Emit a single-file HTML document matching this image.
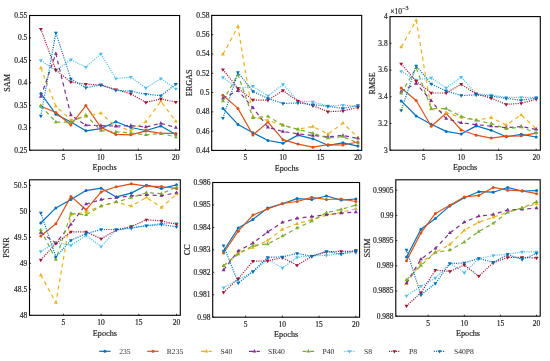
<!DOCTYPE html>
<html><head><meta charset="utf-8"><title>Training curves</title>
<style>
html,body{margin:0;padding:0;background:#fff;}
body{width:550px;height:361px;overflow:hidden;}
svg{display:block;will-change:transform;}
text{font-family:"Liberation Serif", serif;stroke:#262626;stroke-width:0.18px;}
</style></head>
<body>
<svg width="550" height="361" viewBox="0 0 550 361">
<rect width="550" height="361" fill="#fff"/>
<polyline points="40.85,93.50 55.85,114.20 70.85,122.00 85.85,130.80 100.85,128.60 115.85,121.70 130.85,127.50 145.85,130.50 160.85,126.10 175.85,134.60" fill="none" stroke="#0072BD" stroke-width="1.2" stroke-linejoin="round"/>
<circle cx="40.85" cy="93.50" r="1.5" fill="#0072BD"/>
<circle cx="55.85" cy="114.20" r="1.5" fill="#0072BD"/>
<circle cx="70.85" cy="122.00" r="1.5" fill="#0072BD"/>
<circle cx="85.85" cy="130.80" r="1.5" fill="#0072BD"/>
<circle cx="100.85" cy="128.60" r="1.5" fill="#0072BD"/>
<circle cx="115.85" cy="121.70" r="1.5" fill="#0072BD"/>
<circle cx="130.85" cy="127.50" r="1.5" fill="#0072BD"/>
<circle cx="145.85" cy="130.50" r="1.5" fill="#0072BD"/>
<circle cx="160.85" cy="126.10" r="1.5" fill="#0072BD"/>
<circle cx="175.85" cy="134.60" r="1.5" fill="#0072BD"/>
<polyline points="40.85,106.20 55.85,112.50 70.85,125.00 85.85,105.60 100.85,127.40 115.85,134.40 130.85,134.80 145.85,130.90 160.85,133.40 175.85,133.40" fill="none" stroke="#D95319" stroke-width="1.2" stroke-linejoin="round"/>
<circle cx="40.85" cy="106.20" r="1.5" fill="#D95319"/>
<circle cx="55.85" cy="112.50" r="1.5" fill="#D95319"/>
<circle cx="70.85" cy="125.00" r="1.5" fill="#D95319"/>
<circle cx="85.85" cy="105.60" r="1.5" fill="#D95319"/>
<circle cx="100.85" cy="127.40" r="1.5" fill="#D95319"/>
<circle cx="115.85" cy="134.40" r="1.5" fill="#D95319"/>
<circle cx="130.85" cy="134.80" r="1.5" fill="#D95319"/>
<circle cx="145.85" cy="130.90" r="1.5" fill="#D95319"/>
<circle cx="160.85" cy="133.40" r="1.5" fill="#D95319"/>
<circle cx="175.85" cy="133.40" r="1.5" fill="#D95319"/>
<polyline points="40.85,67.90 55.85,106.40 70.85,119.90 85.85,116.50 100.85,113.20 115.85,126.50 130.85,130.30 145.85,121.70 160.85,101.30 175.85,121.30" fill="none" stroke="#EDB120" stroke-width="1.2" stroke-dasharray="4,3.5" stroke-linejoin="round"/>
<polygon points="40.85,65.66 38.90,69.07 42.80,69.07" fill="#EDB120"/>
<polygon points="55.85,104.16 53.90,107.57 57.80,107.57" fill="#EDB120"/>
<polygon points="70.85,117.66 68.90,121.07 72.80,121.07" fill="#EDB120"/>
<polygon points="85.85,114.26 83.90,117.67 87.80,117.67" fill="#EDB120"/>
<polygon points="100.85,110.96 98.90,114.37 102.80,114.37" fill="#EDB120"/>
<polygon points="115.85,124.26 113.90,127.67 117.80,127.67" fill="#EDB120"/>
<polygon points="130.85,128.06 128.90,131.47 132.80,131.47" fill="#EDB120"/>
<polygon points="145.85,119.46 143.90,122.87 147.80,122.87" fill="#EDB120"/>
<polygon points="160.85,99.06 158.90,102.47 162.80,102.47" fill="#EDB120"/>
<polygon points="175.85,119.06 173.90,122.47 177.80,122.47" fill="#EDB120"/>
<polyline points="40.85,96.60 55.85,53.70 70.85,115.10 85.85,125.20 100.85,125.60 115.85,126.10 130.85,125.60 145.85,127.00 160.85,123.30 175.85,127.60" fill="none" stroke="#7E2F8E" stroke-width="1.2" stroke-dasharray="4,3.5" stroke-linejoin="round"/>
<polygon points="40.85,94.36 38.90,97.77 42.80,97.77" fill="#7E2F8E"/>
<polygon points="55.85,51.46 53.90,54.87 57.80,54.87" fill="#7E2F8E"/>
<polygon points="70.85,112.86 68.90,116.27 72.80,116.27" fill="#7E2F8E"/>
<polygon points="85.85,122.96 83.90,126.37 87.80,126.37" fill="#7E2F8E"/>
<polygon points="100.85,123.36 98.90,126.77 102.80,126.77" fill="#7E2F8E"/>
<polygon points="115.85,123.86 113.90,127.27 117.80,127.27" fill="#7E2F8E"/>
<polygon points="130.85,123.36 128.90,126.77 132.80,126.77" fill="#7E2F8E"/>
<polygon points="145.85,124.76 143.90,128.17 147.80,128.17" fill="#7E2F8E"/>
<polygon points="160.85,121.06 158.90,124.47 162.80,124.47" fill="#7E2F8E"/>
<polygon points="175.85,125.36 173.90,128.77 177.80,128.77" fill="#7E2F8E"/>
<polyline points="40.85,105.80 55.85,122.10 70.85,122.20 85.85,115.20 100.85,130.60 115.85,131.80 130.85,133.00 145.85,134.90 160.85,133.40 175.85,137.00" fill="none" stroke="#77AC30" stroke-width="1.2" stroke-dasharray="4,3.5" stroke-linejoin="round"/>
<polygon points="40.85,103.56 38.90,106.97 42.80,106.97" fill="#77AC30"/>
<polygon points="55.85,119.86 53.90,123.27 57.80,123.27" fill="#77AC30"/>
<polygon points="70.85,119.96 68.90,123.37 72.80,123.37" fill="#77AC30"/>
<polygon points="85.85,112.96 83.90,116.37 87.80,116.37" fill="#77AC30"/>
<polygon points="100.85,128.36 98.90,131.77 102.80,131.77" fill="#77AC30"/>
<polygon points="115.85,129.56 113.90,132.97 117.80,132.97" fill="#77AC30"/>
<polygon points="130.85,130.76 128.90,134.17 132.80,134.17" fill="#77AC30"/>
<polygon points="145.85,132.66 143.90,136.07 147.80,136.07" fill="#77AC30"/>
<polygon points="160.85,131.16 158.90,134.57 162.80,134.57" fill="#77AC30"/>
<polygon points="175.85,134.76 173.90,138.17 177.80,138.17" fill="#77AC30"/>
<polyline points="40.85,60.50 55.85,70.40 70.85,59.70 85.85,67.10 100.85,53.80 115.85,78.60 130.85,77.10 145.85,88.00 160.85,78.60 175.85,88.80" fill="none" stroke="#4DBEEE" stroke-width="1.2" stroke-dasharray="1.1,1.2" stroke-linejoin="round"/>
<polygon points="40.85,62.74 38.90,59.33 42.80,59.33" fill="#4DBEEE"/>
<polygon points="55.85,72.64 53.90,69.23 57.80,69.23" fill="#4DBEEE"/>
<polygon points="70.85,61.94 68.90,58.53 72.80,58.53" fill="#4DBEEE"/>
<polygon points="85.85,69.34 83.90,65.93 87.80,65.93" fill="#4DBEEE"/>
<polygon points="100.85,56.04 98.90,52.63 102.80,52.63" fill="#4DBEEE"/>
<polygon points="115.85,80.84 113.90,77.43 117.80,77.43" fill="#4DBEEE"/>
<polygon points="130.85,79.34 128.90,75.93 132.80,75.93" fill="#4DBEEE"/>
<polygon points="145.85,90.24 143.90,86.83 147.80,86.83" fill="#4DBEEE"/>
<polygon points="160.85,80.84 158.90,77.43 162.80,77.43" fill="#4DBEEE"/>
<polygon points="175.85,91.04 173.90,87.63 177.80,87.63" fill="#4DBEEE"/>
<polyline points="40.85,29.10 55.85,70.00 70.85,82.00 85.85,84.20 100.85,85.00 115.85,89.60 130.85,93.80 145.85,102.40 160.85,99.00 175.85,102.10" fill="none" stroke="#A2142F" stroke-width="1.2" stroke-dasharray="1.1,1.2" stroke-linejoin="round"/>
<polygon points="40.85,31.34 38.90,27.93 42.80,27.93" fill="#A2142F"/>
<polygon points="55.85,72.24 53.90,68.83 57.80,68.83" fill="#A2142F"/>
<polygon points="70.85,84.24 68.90,80.83 72.80,80.83" fill="#A2142F"/>
<polygon points="85.85,86.44 83.90,83.03 87.80,83.03" fill="#A2142F"/>
<polygon points="100.85,87.24 98.90,83.83 102.80,83.83" fill="#A2142F"/>
<polygon points="115.85,91.84 113.90,88.43 117.80,88.43" fill="#A2142F"/>
<polygon points="130.85,96.04 128.90,92.63 132.80,92.63" fill="#A2142F"/>
<polygon points="145.85,104.64 143.90,101.23 147.80,101.23" fill="#A2142F"/>
<polygon points="160.85,101.24 158.90,97.83 162.80,97.83" fill="#A2142F"/>
<polygon points="175.85,104.34 173.90,100.93 177.80,100.93" fill="#A2142F"/>
<polyline points="40.85,116.00 55.85,32.80 70.85,78.90 85.85,87.70 100.85,84.90 115.85,90.20 130.85,91.40 145.85,94.10 160.85,95.70 175.85,84.10" fill="none" stroke="#0072BD" stroke-width="1.2" stroke-dasharray="1.1,1.2" stroke-linejoin="round"/>
<polygon points="40.85,118.24 38.90,114.83 42.80,114.83" fill="#0072BD"/>
<polygon points="55.85,35.04 53.90,31.63 57.80,31.63" fill="#0072BD"/>
<polygon points="70.85,81.14 68.90,77.73 72.80,77.73" fill="#0072BD"/>
<polygon points="85.85,89.94 83.90,86.53 87.80,86.53" fill="#0072BD"/>
<polygon points="100.85,87.14 98.90,83.73 102.80,83.73" fill="#0072BD"/>
<polygon points="115.85,92.44 113.90,89.03 117.80,89.03" fill="#0072BD"/>
<polygon points="130.85,93.64 128.90,90.23 132.80,90.23" fill="#0072BD"/>
<polygon points="145.85,96.34 143.90,92.93 147.80,92.93" fill="#0072BD"/>
<polygon points="160.85,97.94 158.90,94.53 162.80,94.53" fill="#0072BD"/>
<polygon points="175.85,86.34 173.90,82.93 177.80,82.93" fill="#0072BD"/>
<rect x="29.60" y="15.50" width="150.00" height="134.70" fill="none" stroke="#000" stroke-width="1.1"/>
<line x1="63.35" y1="150.20" x2="63.35" y2="148.70" stroke="#000" stroke-width="0.8"/>
<text x="63.35" y="160.20" text-anchor="middle" font-size="7.5" fill="#262626">5</text>
<line x1="100.85" y1="150.20" x2="100.85" y2="148.70" stroke="#000" stroke-width="0.8"/>
<text x="100.85" y="160.20" text-anchor="middle" font-size="7.5" fill="#262626">10</text>
<line x1="138.35" y1="150.20" x2="138.35" y2="148.70" stroke="#000" stroke-width="0.8"/>
<text x="138.35" y="160.20" text-anchor="middle" font-size="7.5" fill="#262626">15</text>
<line x1="175.85" y1="150.20" x2="175.85" y2="148.70" stroke="#000" stroke-width="0.8"/>
<text x="175.85" y="160.20" text-anchor="middle" font-size="7.5" fill="#262626">20</text>
<line x1="29.60" y1="150.20" x2="31.10" y2="150.20" stroke="#000" stroke-width="0.8"/>
<text x="27.30" y="152.60" text-anchor="end" font-size="7.5" fill="#262626">0.25</text>
<line x1="29.60" y1="127.75" x2="31.10" y2="127.75" stroke="#000" stroke-width="0.8"/>
<text x="27.30" y="130.15" text-anchor="end" font-size="7.5" fill="#262626">0.3</text>
<line x1="29.60" y1="105.30" x2="31.10" y2="105.30" stroke="#000" stroke-width="0.8"/>
<text x="27.30" y="107.70" text-anchor="end" font-size="7.5" fill="#262626">0.35</text>
<line x1="29.60" y1="82.85" x2="31.10" y2="82.85" stroke="#000" stroke-width="0.8"/>
<text x="27.30" y="85.25" text-anchor="end" font-size="7.5" fill="#262626">0.4</text>
<line x1="29.60" y1="60.40" x2="31.10" y2="60.40" stroke="#000" stroke-width="0.8"/>
<text x="27.30" y="62.80" text-anchor="end" font-size="7.5" fill="#262626">0.45</text>
<line x1="29.60" y1="37.95" x2="31.10" y2="37.95" stroke="#000" stroke-width="0.8"/>
<text x="27.30" y="40.35" text-anchor="end" font-size="7.5" fill="#262626">0.5</text>
<line x1="29.60" y1="15.50" x2="31.10" y2="15.50" stroke="#000" stroke-width="0.8"/>
<text x="27.30" y="17.90" text-anchor="end" font-size="7.5" fill="#262626">0.55</text>
<text x="104.60" y="170.40" text-anchor="middle" font-size="8.2" fill="#262626">Epochs</text>
<text transform="translate(10.40,82.85) rotate(-90)" text-anchor="middle" font-size="8.2" fill="#262626">SAM</text>
<polyline points="222.95,108.40 237.95,124.40 252.95,132.70 267.95,140.50 282.95,143.20 297.95,135.10 312.95,138.80 327.95,145.30 342.95,142.80 357.95,146.10" fill="none" stroke="#0072BD" stroke-width="1.2" stroke-linejoin="round"/>
<circle cx="222.95" cy="108.40" r="1.5" fill="#0072BD"/>
<circle cx="237.95" cy="124.40" r="1.5" fill="#0072BD"/>
<circle cx="252.95" cy="132.70" r="1.5" fill="#0072BD"/>
<circle cx="267.95" cy="140.50" r="1.5" fill="#0072BD"/>
<circle cx="282.95" cy="143.20" r="1.5" fill="#0072BD"/>
<circle cx="297.95" cy="135.10" r="1.5" fill="#0072BD"/>
<circle cx="312.95" cy="138.80" r="1.5" fill="#0072BD"/>
<circle cx="327.95" cy="145.30" r="1.5" fill="#0072BD"/>
<circle cx="342.95" cy="142.80" r="1.5" fill="#0072BD"/>
<circle cx="357.95" cy="146.10" r="1.5" fill="#0072BD"/>
<polyline points="222.95,95.30 237.95,108.40 252.95,135.00 267.95,122.10 282.95,139.70 297.95,144.10 312.95,147.20 327.95,144.70 342.95,145.00 357.95,142.00" fill="none" stroke="#D95319" stroke-width="1.2" stroke-linejoin="round"/>
<circle cx="222.95" cy="95.30" r="1.5" fill="#D95319"/>
<circle cx="237.95" cy="108.40" r="1.5" fill="#D95319"/>
<circle cx="252.95" cy="135.00" r="1.5" fill="#D95319"/>
<circle cx="267.95" cy="122.10" r="1.5" fill="#D95319"/>
<circle cx="282.95" cy="139.70" r="1.5" fill="#D95319"/>
<circle cx="297.95" cy="144.10" r="1.5" fill="#D95319"/>
<circle cx="312.95" cy="147.20" r="1.5" fill="#D95319"/>
<circle cx="327.95" cy="144.70" r="1.5" fill="#D95319"/>
<circle cx="342.95" cy="145.00" r="1.5" fill="#D95319"/>
<circle cx="357.95" cy="142.00" r="1.5" fill="#D95319"/>
<polyline points="222.95,54.30 237.95,26.60 252.95,116.80 267.95,120.50 282.95,125.20 297.95,129.20 312.95,126.50 327.95,134.10 342.95,123.20 357.95,137.40" fill="none" stroke="#EDB120" stroke-width="1.2" stroke-dasharray="4,3.5" stroke-linejoin="round"/>
<polygon points="222.95,52.06 221.00,55.47 224.90,55.47" fill="#EDB120"/>
<polygon points="237.95,24.36 236.00,27.77 239.90,27.77" fill="#EDB120"/>
<polygon points="252.95,114.56 251.00,117.97 254.90,117.97" fill="#EDB120"/>
<polygon points="267.95,118.26 266.00,121.67 269.90,121.67" fill="#EDB120"/>
<polygon points="282.95,122.96 281.00,126.37 284.90,126.37" fill="#EDB120"/>
<polygon points="297.95,126.96 296.00,130.37 299.90,130.37" fill="#EDB120"/>
<polygon points="312.95,124.26 311.00,127.67 314.90,127.67" fill="#EDB120"/>
<polygon points="327.95,131.86 326.00,135.27 329.90,135.27" fill="#EDB120"/>
<polygon points="342.95,120.96 341.00,124.37 344.90,124.37" fill="#EDB120"/>
<polygon points="357.95,135.16 356.00,138.57 359.90,138.57" fill="#EDB120"/>
<polyline points="222.95,98.40 237.95,90.50 252.95,107.70 267.95,127.30 282.95,131.50 297.95,133.80 312.95,135.50 327.95,136.80 342.95,135.50 357.95,138.40" fill="none" stroke="#7E2F8E" stroke-width="1.2" stroke-dasharray="4,3.5" stroke-linejoin="round"/>
<polygon points="222.95,96.16 221.00,99.57 224.90,99.57" fill="#7E2F8E"/>
<polygon points="237.95,88.26 236.00,91.67 239.90,91.67" fill="#7E2F8E"/>
<polygon points="252.95,105.46 251.00,108.87 254.90,108.87" fill="#7E2F8E"/>
<polygon points="267.95,125.06 266.00,128.47 269.90,128.47" fill="#7E2F8E"/>
<polygon points="282.95,129.26 281.00,132.67 284.90,132.67" fill="#7E2F8E"/>
<polygon points="297.95,131.56 296.00,134.97 299.90,134.97" fill="#7E2F8E"/>
<polygon points="312.95,133.26 311.00,136.67 314.90,136.67" fill="#7E2F8E"/>
<polygon points="327.95,134.56 326.00,137.97 329.90,137.97" fill="#7E2F8E"/>
<polygon points="342.95,133.26 341.00,136.67 344.90,136.67" fill="#7E2F8E"/>
<polygon points="357.95,136.16 356.00,139.57 359.90,139.57" fill="#7E2F8E"/>
<polyline points="222.95,101.00 237.95,74.50 252.95,117.80 267.95,116.40 282.95,125.30 297.95,129.40 312.95,133.30 327.95,138.10 342.95,136.60 357.95,143.10" fill="none" stroke="#77AC30" stroke-width="1.2" stroke-dasharray="4,3.5" stroke-linejoin="round"/>
<polygon points="222.95,98.76 221.00,102.17 224.90,102.17" fill="#77AC30"/>
<polygon points="237.95,72.26 236.00,75.67 239.90,75.67" fill="#77AC30"/>
<polygon points="252.95,115.56 251.00,118.97 254.90,118.97" fill="#77AC30"/>
<polygon points="267.95,114.16 266.00,117.57 269.90,117.57" fill="#77AC30"/>
<polygon points="282.95,123.06 281.00,126.47 284.90,126.47" fill="#77AC30"/>
<polygon points="297.95,127.16 296.00,130.57 299.90,130.57" fill="#77AC30"/>
<polygon points="312.95,131.06 311.00,134.47 314.90,134.47" fill="#77AC30"/>
<polygon points="327.95,135.86 326.00,139.27 329.90,139.27" fill="#77AC30"/>
<polygon points="342.95,134.36 341.00,137.77 344.90,137.77" fill="#77AC30"/>
<polygon points="357.95,140.86 356.00,144.27 359.90,144.27" fill="#77AC30"/>
<polyline points="222.95,77.50 237.95,88.40 252.95,86.20 267.95,96.00 282.95,84.40 297.95,101.00 312.95,102.00 327.95,106.00 342.95,105.20 357.95,106.30" fill="none" stroke="#4DBEEE" stroke-width="1.2" stroke-dasharray="1.1,1.2" stroke-linejoin="round"/>
<polygon points="222.95,79.74 221.00,76.33 224.90,76.33" fill="#4DBEEE"/>
<polygon points="237.95,90.64 236.00,87.23 239.90,87.23" fill="#4DBEEE"/>
<polygon points="252.95,88.44 251.00,85.03 254.90,85.03" fill="#4DBEEE"/>
<polygon points="267.95,98.24 266.00,94.83 269.90,94.83" fill="#4DBEEE"/>
<polygon points="282.95,86.64 281.00,83.23 284.90,83.23" fill="#4DBEEE"/>
<polygon points="297.95,103.24 296.00,99.83 299.90,99.83" fill="#4DBEEE"/>
<polygon points="312.95,104.24 311.00,100.83 314.90,100.83" fill="#4DBEEE"/>
<polygon points="327.95,108.24 326.00,104.83 329.90,104.83" fill="#4DBEEE"/>
<polygon points="342.95,107.44 341.00,104.03 344.90,104.03" fill="#4DBEEE"/>
<polygon points="357.95,108.54 356.00,105.13 359.90,105.13" fill="#4DBEEE"/>
<polyline points="222.95,69.60 237.95,88.40 252.95,100.00 267.95,100.20 282.95,90.50 297.95,101.20 312.95,105.70 327.95,111.70 342.95,111.00 357.95,107.40" fill="none" stroke="#A2142F" stroke-width="1.2" stroke-dasharray="1.1,1.2" stroke-linejoin="round"/>
<polygon points="222.95,71.84 221.00,68.43 224.90,68.43" fill="#A2142F"/>
<polygon points="237.95,90.64 236.00,87.23 239.90,87.23" fill="#A2142F"/>
<polygon points="252.95,102.24 251.00,98.83 254.90,98.83" fill="#A2142F"/>
<polygon points="267.95,102.44 266.00,99.03 269.90,99.03" fill="#A2142F"/>
<polygon points="282.95,92.74 281.00,89.33 284.90,89.33" fill="#A2142F"/>
<polygon points="297.95,103.44 296.00,100.03 299.90,100.03" fill="#A2142F"/>
<polygon points="312.95,107.94 311.00,104.53 314.90,104.53" fill="#A2142F"/>
<polygon points="327.95,113.94 326.00,110.53 329.90,110.53" fill="#A2142F"/>
<polygon points="342.95,113.24 341.00,109.83 344.90,109.83" fill="#A2142F"/>
<polygon points="357.95,109.64 356.00,106.23 359.90,106.23" fill="#A2142F"/>
<polyline points="222.95,118.10 237.95,72.30 252.95,91.40 267.95,98.50 282.95,103.40 297.95,103.00 312.95,104.70 327.95,106.30 342.95,108.40 357.95,105.50" fill="none" stroke="#0072BD" stroke-width="1.2" stroke-dasharray="1.1,1.2" stroke-linejoin="round"/>
<polygon points="222.95,120.34 221.00,116.93 224.90,116.93" fill="#0072BD"/>
<polygon points="237.95,74.54 236.00,71.13 239.90,71.13" fill="#0072BD"/>
<polygon points="252.95,93.64 251.00,90.23 254.90,90.23" fill="#0072BD"/>
<polygon points="267.95,100.74 266.00,97.33 269.90,97.33" fill="#0072BD"/>
<polygon points="282.95,105.64 281.00,102.23 284.90,102.23" fill="#0072BD"/>
<polygon points="297.95,105.24 296.00,101.83 299.90,101.83" fill="#0072BD"/>
<polygon points="312.95,106.94 311.00,103.53 314.90,103.53" fill="#0072BD"/>
<polygon points="327.95,108.54 326.00,105.13 329.90,105.13" fill="#0072BD"/>
<polygon points="342.95,110.64 341.00,107.23 344.90,107.23" fill="#0072BD"/>
<polygon points="357.95,107.74 356.00,104.33 359.90,104.33" fill="#0072BD"/>
<rect x="211.70" y="15.40" width="150.00" height="135.00" fill="none" stroke="#000" stroke-width="1.1"/>
<line x1="245.45" y1="150.40" x2="245.45" y2="148.90" stroke="#000" stroke-width="0.8"/>
<text x="245.45" y="160.40" text-anchor="middle" font-size="7.5" fill="#262626">5</text>
<line x1="282.95" y1="150.40" x2="282.95" y2="148.90" stroke="#000" stroke-width="0.8"/>
<text x="282.95" y="160.40" text-anchor="middle" font-size="7.5" fill="#262626">10</text>
<line x1="320.45" y1="150.40" x2="320.45" y2="148.90" stroke="#000" stroke-width="0.8"/>
<text x="320.45" y="160.40" text-anchor="middle" font-size="7.5" fill="#262626">15</text>
<line x1="357.95" y1="150.40" x2="357.95" y2="148.90" stroke="#000" stroke-width="0.8"/>
<text x="357.95" y="160.40" text-anchor="middle" font-size="7.5" fill="#262626">20</text>
<line x1="211.70" y1="150.40" x2="213.20" y2="150.40" stroke="#000" stroke-width="0.8"/>
<text x="209.40" y="152.80" text-anchor="end" font-size="7.5" fill="#262626">0.44</text>
<line x1="211.70" y1="131.11" x2="213.20" y2="131.11" stroke="#000" stroke-width="0.8"/>
<text x="209.40" y="133.51" text-anchor="end" font-size="7.5" fill="#262626">0.46</text>
<line x1="211.70" y1="111.83" x2="213.20" y2="111.83" stroke="#000" stroke-width="0.8"/>
<text x="209.40" y="114.23" text-anchor="end" font-size="7.5" fill="#262626">0.48</text>
<line x1="211.70" y1="92.54" x2="213.20" y2="92.54" stroke="#000" stroke-width="0.8"/>
<text x="209.40" y="94.94" text-anchor="end" font-size="7.5" fill="#262626">0.5</text>
<line x1="211.70" y1="73.26" x2="213.20" y2="73.26" stroke="#000" stroke-width="0.8"/>
<text x="209.40" y="75.66" text-anchor="end" font-size="7.5" fill="#262626">0.52</text>
<line x1="211.70" y1="53.97" x2="213.20" y2="53.97" stroke="#000" stroke-width="0.8"/>
<text x="209.40" y="56.37" text-anchor="end" font-size="7.5" fill="#262626">0.54</text>
<line x1="211.70" y1="34.69" x2="213.20" y2="34.69" stroke="#000" stroke-width="0.8"/>
<text x="209.40" y="37.09" text-anchor="end" font-size="7.5" fill="#262626">0.56</text>
<line x1="211.70" y1="15.40" x2="213.20" y2="15.40" stroke="#000" stroke-width="0.8"/>
<text x="209.40" y="17.80" text-anchor="end" font-size="7.5" fill="#262626">0.58</text>
<text x="286.70" y="170.60" text-anchor="middle" font-size="8.2" fill="#262626">Epochs</text>
<text transform="translate(191.90,82.90) rotate(-90)" text-anchor="middle" font-size="8.2" fill="#262626">ERGAS</text>
<polyline points="401.20,100.90 416.20,116.00 431.20,124.20 446.20,131.40 461.20,134.00 476.20,125.90 491.20,130.30 506.20,136.80 521.20,134.30 536.20,137.00" fill="none" stroke="#0072BD" stroke-width="1.2" stroke-linejoin="round"/>
<circle cx="401.20" cy="100.90" r="1.5" fill="#0072BD"/>
<circle cx="416.20" cy="116.00" r="1.5" fill="#0072BD"/>
<circle cx="431.20" cy="124.20" r="1.5" fill="#0072BD"/>
<circle cx="446.20" cy="131.40" r="1.5" fill="#0072BD"/>
<circle cx="461.20" cy="134.00" r="1.5" fill="#0072BD"/>
<circle cx="476.20" cy="125.90" r="1.5" fill="#0072BD"/>
<circle cx="491.20" cy="130.30" r="1.5" fill="#0072BD"/>
<circle cx="506.20" cy="136.80" r="1.5" fill="#0072BD"/>
<circle cx="521.20" cy="134.30" r="1.5" fill="#0072BD"/>
<circle cx="536.20" cy="137.00" r="1.5" fill="#0072BD"/>
<polyline points="401.20,88.00 416.20,100.50 431.20,126.20 446.20,113.30 461.20,130.00 476.20,135.20 491.20,138.10 506.20,136.20 521.20,135.80 536.20,133.10" fill="none" stroke="#D95319" stroke-width="1.2" stroke-linejoin="round"/>
<circle cx="401.20" cy="88.00" r="1.5" fill="#D95319"/>
<circle cx="416.20" cy="100.50" r="1.5" fill="#D95319"/>
<circle cx="431.20" cy="126.20" r="1.5" fill="#D95319"/>
<circle cx="446.20" cy="113.30" r="1.5" fill="#D95319"/>
<circle cx="461.20" cy="130.00" r="1.5" fill="#D95319"/>
<circle cx="476.20" cy="135.20" r="1.5" fill="#D95319"/>
<circle cx="491.20" cy="138.10" r="1.5" fill="#D95319"/>
<circle cx="506.20" cy="136.20" r="1.5" fill="#D95319"/>
<circle cx="521.20" cy="135.80" r="1.5" fill="#D95319"/>
<circle cx="536.20" cy="133.10" r="1.5" fill="#D95319"/>
<polyline points="401.20,47.00 416.20,20.40 431.20,109.00 446.20,112.50 461.20,117.50 476.20,120.20 491.20,117.60 506.20,125.10 521.20,114.90 536.20,128.80" fill="none" stroke="#EDB120" stroke-width="1.2" stroke-dasharray="4,3.5" stroke-linejoin="round"/>
<polygon points="401.20,44.76 399.25,48.17 403.15,48.17" fill="#EDB120"/>
<polygon points="416.20,18.16 414.25,21.57 418.15,21.57" fill="#EDB120"/>
<polygon points="431.20,106.76 429.25,110.17 433.15,110.17" fill="#EDB120"/>
<polygon points="446.20,110.26 444.25,113.67 448.15,113.67" fill="#EDB120"/>
<polygon points="461.20,115.26 459.25,118.67 463.15,118.67" fill="#EDB120"/>
<polygon points="476.20,117.96 474.25,121.37 478.15,121.37" fill="#EDB120"/>
<polygon points="491.20,115.36 489.25,118.77 493.15,118.77" fill="#EDB120"/>
<polygon points="506.20,122.86 504.25,126.27 508.15,126.27" fill="#EDB120"/>
<polygon points="521.20,112.66 519.25,116.07 523.15,116.07" fill="#EDB120"/>
<polygon points="536.20,126.56 534.25,129.97 538.15,129.97" fill="#EDB120"/>
<polyline points="401.20,91.50 416.20,83.40 431.20,100.80 446.20,118.60 461.20,122.80 476.20,124.60 491.20,126.20 506.20,127.70 521.20,126.50 536.20,129.40" fill="none" stroke="#7E2F8E" stroke-width="1.2" stroke-dasharray="4,3.5" stroke-linejoin="round"/>
<polygon points="401.20,89.26 399.25,92.67 403.15,92.67" fill="#7E2F8E"/>
<polygon points="416.20,81.16 414.25,84.57 418.15,84.57" fill="#7E2F8E"/>
<polygon points="431.20,98.56 429.25,101.97 433.15,101.97" fill="#7E2F8E"/>
<polygon points="446.20,116.36 444.25,119.77 448.15,119.77" fill="#7E2F8E"/>
<polygon points="461.20,120.56 459.25,123.97 463.15,123.97" fill="#7E2F8E"/>
<polygon points="476.20,122.36 474.25,125.77 478.15,125.77" fill="#7E2F8E"/>
<polygon points="491.20,123.96 489.25,127.37 493.15,127.37" fill="#7E2F8E"/>
<polygon points="506.20,125.46 504.25,128.87 508.15,128.87" fill="#7E2F8E"/>
<polygon points="521.20,124.26 519.25,127.67 523.15,127.67" fill="#7E2F8E"/>
<polygon points="536.20,127.16 534.25,130.57 538.15,130.57" fill="#7E2F8E"/>
<polyline points="401.20,93.30 416.20,67.90 431.20,108.50 446.20,108.60 461.20,116.40 476.20,120.30 491.20,123.60 506.20,128.80 521.20,127.10 536.20,132.90" fill="none" stroke="#77AC30" stroke-width="1.2" stroke-dasharray="4,3.5" stroke-linejoin="round"/>
<polygon points="401.20,91.06 399.25,94.47 403.15,94.47" fill="#77AC30"/>
<polygon points="416.20,65.66 414.25,69.07 418.15,69.07" fill="#77AC30"/>
<polygon points="431.20,106.26 429.25,109.67 433.15,109.67" fill="#77AC30"/>
<polygon points="446.20,106.36 444.25,109.77 448.15,109.77" fill="#77AC30"/>
<polygon points="461.20,114.16 459.25,117.57 463.15,117.57" fill="#77AC30"/>
<polygon points="476.20,118.06 474.25,121.47 478.15,121.47" fill="#77AC30"/>
<polygon points="491.20,121.36 489.25,124.77 493.15,124.77" fill="#77AC30"/>
<polygon points="506.20,126.56 504.25,129.97 508.15,129.97" fill="#77AC30"/>
<polygon points="521.20,124.86 519.25,128.27 523.15,128.27" fill="#77AC30"/>
<polygon points="536.20,130.66 534.25,134.07 538.15,134.07" fill="#77AC30"/>
<polyline points="401.20,71.30 416.20,80.00 431.20,78.00 446.20,87.90 461.20,77.20 476.20,93.70 491.20,94.90 506.20,97.40 521.20,97.40 536.20,97.50" fill="none" stroke="#4DBEEE" stroke-width="1.2" stroke-dasharray="1.1,1.2" stroke-linejoin="round"/>
<polygon points="401.20,73.54 399.25,70.13 403.15,70.13" fill="#4DBEEE"/>
<polygon points="416.20,82.24 414.25,78.83 418.15,78.83" fill="#4DBEEE"/>
<polygon points="431.20,80.24 429.25,76.83 433.15,76.83" fill="#4DBEEE"/>
<polygon points="446.20,90.14 444.25,86.73 448.15,86.73" fill="#4DBEEE"/>
<polygon points="461.20,79.44 459.25,76.03 463.15,76.03" fill="#4DBEEE"/>
<polygon points="476.20,95.94 474.25,92.53 478.15,92.53" fill="#4DBEEE"/>
<polygon points="491.20,97.14 489.25,93.73 493.15,93.73" fill="#4DBEEE"/>
<polygon points="506.20,99.64 504.25,96.23 508.15,96.23" fill="#4DBEEE"/>
<polygon points="521.20,99.64 519.25,96.23 523.15,96.23" fill="#4DBEEE"/>
<polygon points="536.20,99.74 534.25,96.33 538.15,96.33" fill="#4DBEEE"/>
<polyline points="401.20,63.80 416.20,81.20 431.20,93.00 446.20,93.00 461.20,84.20 476.20,94.00 491.20,98.20 506.20,104.40 521.20,103.30 536.20,99.20" fill="none" stroke="#A2142F" stroke-width="1.2" stroke-dasharray="1.1,1.2" stroke-linejoin="round"/>
<polygon points="401.20,66.04 399.25,62.63 403.15,62.63" fill="#A2142F"/>
<polygon points="416.20,83.44 414.25,80.03 418.15,80.03" fill="#A2142F"/>
<polygon points="431.20,95.24 429.25,91.83 433.15,91.83" fill="#A2142F"/>
<polygon points="446.20,95.24 444.25,91.83 448.15,91.83" fill="#A2142F"/>
<polygon points="461.20,86.44 459.25,83.03 463.15,83.03" fill="#A2142F"/>
<polygon points="476.20,96.24 474.25,92.83 478.15,92.83" fill="#A2142F"/>
<polygon points="491.20,100.44 489.25,97.03 493.15,97.03" fill="#A2142F"/>
<polygon points="506.20,106.64 504.25,103.23 508.15,103.23" fill="#A2142F"/>
<polygon points="521.20,105.54 519.25,102.13 523.15,102.13" fill="#A2142F"/>
<polygon points="536.20,101.44 534.25,98.03 538.15,98.03" fill="#A2142F"/>
<polyline points="401.20,110.30 416.20,65.80 431.20,84.00 446.20,91.00 461.20,95.50 476.20,94.90 491.20,96.10 506.20,98.40 521.20,100.30 536.20,98.00" fill="none" stroke="#0072BD" stroke-width="1.2" stroke-dasharray="1.1,1.2" stroke-linejoin="round"/>
<polygon points="401.20,112.54 399.25,109.13 403.15,109.13" fill="#0072BD"/>
<polygon points="416.20,68.04 414.25,64.63 418.15,64.63" fill="#0072BD"/>
<polygon points="431.20,86.24 429.25,82.83 433.15,82.83" fill="#0072BD"/>
<polygon points="446.20,93.24 444.25,89.83 448.15,89.83" fill="#0072BD"/>
<polygon points="461.20,97.74 459.25,94.33 463.15,94.33" fill="#0072BD"/>
<polygon points="476.20,97.14 474.25,93.73 478.15,93.73" fill="#0072BD"/>
<polygon points="491.20,98.34 489.25,94.93 493.15,94.93" fill="#0072BD"/>
<polygon points="506.20,100.64 504.25,97.23 508.15,97.23" fill="#0072BD"/>
<polygon points="521.20,102.54 519.25,99.13 523.15,99.13" fill="#0072BD"/>
<polygon points="536.20,100.24 534.25,96.83 538.15,96.83" fill="#0072BD"/>
<rect x="390.00" y="16.60" width="150.30" height="133.60" fill="none" stroke="#000" stroke-width="1.1"/>
<line x1="423.70" y1="150.20" x2="423.70" y2="148.70" stroke="#000" stroke-width="0.8"/>
<text x="423.70" y="160.20" text-anchor="middle" font-size="7.5" fill="#262626">5</text>
<line x1="461.20" y1="150.20" x2="461.20" y2="148.70" stroke="#000" stroke-width="0.8"/>
<text x="461.20" y="160.20" text-anchor="middle" font-size="7.5" fill="#262626">10</text>
<line x1="498.70" y1="150.20" x2="498.70" y2="148.70" stroke="#000" stroke-width="0.8"/>
<text x="498.70" y="160.20" text-anchor="middle" font-size="7.5" fill="#262626">15</text>
<line x1="536.20" y1="150.20" x2="536.20" y2="148.70" stroke="#000" stroke-width="0.8"/>
<text x="536.20" y="160.20" text-anchor="middle" font-size="7.5" fill="#262626">20</text>
<line x1="390.00" y1="150.20" x2="391.50" y2="150.20" stroke="#000" stroke-width="0.8"/>
<text x="387.70" y="152.60" text-anchor="end" font-size="7.5" fill="#262626">3</text>
<line x1="390.00" y1="123.48" x2="391.50" y2="123.48" stroke="#000" stroke-width="0.8"/>
<text x="387.70" y="125.88" text-anchor="end" font-size="7.5" fill="#262626">3.2</text>
<line x1="390.00" y1="96.76" x2="391.50" y2="96.76" stroke="#000" stroke-width="0.8"/>
<text x="387.70" y="99.16" text-anchor="end" font-size="7.5" fill="#262626">3.4</text>
<line x1="390.00" y1="70.04" x2="391.50" y2="70.04" stroke="#000" stroke-width="0.8"/>
<text x="387.70" y="72.44" text-anchor="end" font-size="7.5" fill="#262626">3.6</text>
<line x1="390.00" y1="43.32" x2="391.50" y2="43.32" stroke="#000" stroke-width="0.8"/>
<text x="387.70" y="45.72" text-anchor="end" font-size="7.5" fill="#262626">3.8</text>
<line x1="390.00" y1="16.60" x2="391.50" y2="16.60" stroke="#000" stroke-width="0.8"/>
<text x="387.70" y="19.00" text-anchor="end" font-size="7.5" fill="#262626">4</text>
<text x="465.15" y="170.40" text-anchor="middle" font-size="8.2" fill="#262626">Epochs</text>
<text transform="translate(374.90,83.40) rotate(-90)" text-anchor="middle" font-size="8.2" fill="#262626">RMSE</text>
<text x="390.3" y="13.8" font-size="7.5" fill="#262626">&#215;10<tspan dy="-3.9" font-size="6">&#8722;3</tspan></text>
<polyline points="40.80,223.00 55.88,207.90 70.96,199.50 86.04,190.60 101.12,188.20 116.20,196.90 131.28,193.10 146.36,185.20 161.44,188.50 176.52,184.80" fill="none" stroke="#0072BD" stroke-width="1.2" stroke-linejoin="round"/>
<circle cx="40.80" cy="223.00" r="1.5" fill="#0072BD"/>
<circle cx="55.88" cy="207.90" r="1.5" fill="#0072BD"/>
<circle cx="70.96" cy="199.50" r="1.5" fill="#0072BD"/>
<circle cx="86.04" cy="190.60" r="1.5" fill="#0072BD"/>
<circle cx="101.12" cy="188.20" r="1.5" fill="#0072BD"/>
<circle cx="116.20" cy="196.90" r="1.5" fill="#0072BD"/>
<circle cx="131.28" cy="193.10" r="1.5" fill="#0072BD"/>
<circle cx="146.36" cy="185.20" r="1.5" fill="#0072BD"/>
<circle cx="161.44" cy="188.50" r="1.5" fill="#0072BD"/>
<circle cx="176.52" cy="184.80" r="1.5" fill="#0072BD"/>
<polyline points="40.80,236.00 55.88,223.80 70.96,196.40 86.04,209.80 101.12,191.90 116.20,186.80 131.28,183.80 146.36,186.10 161.44,186.50 176.52,188.50" fill="none" stroke="#D95319" stroke-width="1.2" stroke-linejoin="round"/>
<circle cx="40.80" cy="236.00" r="1.5" fill="#D95319"/>
<circle cx="55.88" cy="223.80" r="1.5" fill="#D95319"/>
<circle cx="70.96" cy="196.40" r="1.5" fill="#D95319"/>
<circle cx="86.04" cy="209.80" r="1.5" fill="#D95319"/>
<circle cx="101.12" cy="191.90" r="1.5" fill="#D95319"/>
<circle cx="116.20" cy="186.80" r="1.5" fill="#D95319"/>
<circle cx="131.28" cy="183.80" r="1.5" fill="#D95319"/>
<circle cx="146.36" cy="186.10" r="1.5" fill="#D95319"/>
<circle cx="161.44" cy="186.50" r="1.5" fill="#D95319"/>
<circle cx="176.52" cy="188.50" r="1.5" fill="#D95319"/>
<polyline points="40.80,275.00 55.88,302.70 70.96,215.00 86.04,211.80 101.12,206.00 116.20,202.20 131.28,206.10 146.36,197.40 161.44,207.50 176.52,194.00" fill="none" stroke="#EDB120" stroke-width="1.2" stroke-dasharray="4,3.5" stroke-linejoin="round"/>
<polygon points="40.80,272.76 38.85,276.17 42.75,276.17" fill="#EDB120"/>
<polygon points="55.88,300.46 53.93,303.87 57.83,303.87" fill="#EDB120"/>
<polygon points="70.96,212.76 69.01,216.17 72.91,216.17" fill="#EDB120"/>
<polygon points="86.04,209.56 84.09,212.97 87.99,212.97" fill="#EDB120"/>
<polygon points="101.12,203.76 99.17,207.17 103.07,207.17" fill="#EDB120"/>
<polygon points="116.20,199.96 114.25,203.37 118.15,203.37" fill="#EDB120"/>
<polygon points="131.28,203.86 129.33,207.27 133.23,207.27" fill="#EDB120"/>
<polygon points="146.36,195.16 144.41,198.57 148.31,198.57" fill="#EDB120"/>
<polygon points="161.44,205.26 159.49,208.67 163.39,208.67" fill="#EDB120"/>
<polygon points="176.52,191.76 174.57,195.17 178.47,195.17" fill="#EDB120"/>
<polyline points="40.80,232.60 55.88,243.00 70.96,224.40 86.04,204.20 101.12,199.60 116.20,197.70 131.28,195.90 146.36,194.80 161.44,195.70 176.52,192.70" fill="none" stroke="#7E2F8E" stroke-width="1.2" stroke-dasharray="4,3.5" stroke-linejoin="round"/>
<polygon points="40.80,230.36 38.85,233.77 42.75,233.77" fill="#7E2F8E"/>
<polygon points="55.88,240.76 53.93,244.17 57.83,244.17" fill="#7E2F8E"/>
<polygon points="70.96,222.16 69.01,225.57 72.91,225.57" fill="#7E2F8E"/>
<polygon points="86.04,201.96 84.09,205.37 87.99,205.37" fill="#7E2F8E"/>
<polygon points="101.12,197.36 99.17,200.77 103.07,200.77" fill="#7E2F8E"/>
<polygon points="116.20,195.46 114.25,198.87 118.15,198.87" fill="#7E2F8E"/>
<polygon points="131.28,193.66 129.33,197.07 133.23,197.07" fill="#7E2F8E"/>
<polygon points="146.36,192.56 144.41,195.97 148.31,195.97" fill="#7E2F8E"/>
<polygon points="161.44,193.46 159.49,196.87 163.39,196.87" fill="#7E2F8E"/>
<polygon points="176.52,190.46 174.57,193.87 178.47,193.87" fill="#7E2F8E"/>
<polyline points="40.80,229.90 55.88,259.50 70.96,213.40 86.04,214.90 101.12,206.10 116.20,201.90 131.28,197.70 146.36,192.70 161.44,193.70 176.52,187.20" fill="none" stroke="#77AC30" stroke-width="1.2" stroke-dasharray="4,3.5" stroke-linejoin="round"/>
<polygon points="40.80,227.66 38.85,231.07 42.75,231.07" fill="#77AC30"/>
<polygon points="55.88,257.26 53.93,260.67 57.83,260.67" fill="#77AC30"/>
<polygon points="70.96,211.16 69.01,214.57 72.91,214.57" fill="#77AC30"/>
<polygon points="86.04,212.66 84.09,216.07 87.99,216.07" fill="#77AC30"/>
<polygon points="101.12,203.86 99.17,207.27 103.07,207.27" fill="#77AC30"/>
<polygon points="116.20,199.66 114.25,203.07 118.15,203.07" fill="#77AC30"/>
<polygon points="131.28,195.46 129.33,198.87 133.23,198.87" fill="#77AC30"/>
<polygon points="146.36,190.46 144.41,193.87 148.31,193.87" fill="#77AC30"/>
<polygon points="161.44,191.46 159.49,194.87 163.39,194.87" fill="#77AC30"/>
<polygon points="176.52,184.96 174.57,188.37 178.47,188.37" fill="#77AC30"/>
<polyline points="40.80,251.50 55.88,242.40 70.96,245.30 86.04,235.50 101.12,246.60 116.20,230.10 131.28,228.30 146.36,225.50 161.44,223.50 176.52,223.30" fill="none" stroke="#4DBEEE" stroke-width="1.2" stroke-dasharray="1.1,1.2" stroke-linejoin="round"/>
<polygon points="40.80,253.74 38.85,250.33 42.75,250.33" fill="#4DBEEE"/>
<polygon points="55.88,244.64 53.93,241.23 57.83,241.23" fill="#4DBEEE"/>
<polygon points="70.96,247.54 69.01,244.13 72.91,244.13" fill="#4DBEEE"/>
<polygon points="86.04,237.74 84.09,234.33 87.99,234.33" fill="#4DBEEE"/>
<polygon points="101.12,248.84 99.17,245.43 103.07,245.43" fill="#4DBEEE"/>
<polygon points="116.20,232.34 114.25,228.93 118.15,228.93" fill="#4DBEEE"/>
<polygon points="131.28,230.54 129.33,227.13 133.23,227.13" fill="#4DBEEE"/>
<polygon points="146.36,227.74 144.41,224.33 148.31,224.33" fill="#4DBEEE"/>
<polygon points="161.44,225.74 159.49,222.33 163.39,222.33" fill="#4DBEEE"/>
<polygon points="176.52,225.54 174.57,222.13 178.47,222.13" fill="#4DBEEE"/>
<polyline points="40.80,259.90 55.88,243.60 70.96,231.80 86.04,231.80 101.12,238.80 116.20,230.10 131.28,226.50 146.36,219.80 161.44,220.90 176.52,224.30" fill="none" stroke="#A2142F" stroke-width="1.2" stroke-dasharray="1.1,1.2" stroke-linejoin="round"/>
<polygon points="40.80,262.14 38.85,258.73 42.75,258.73" fill="#A2142F"/>
<polygon points="55.88,245.84 53.93,242.43 57.83,242.43" fill="#A2142F"/>
<polygon points="70.96,234.04 69.01,230.63 72.91,230.63" fill="#A2142F"/>
<polygon points="86.04,234.04 84.09,230.63 87.99,230.63" fill="#A2142F"/>
<polygon points="101.12,241.04 99.17,237.63 103.07,237.63" fill="#A2142F"/>
<polygon points="116.20,232.34 114.25,228.93 118.15,228.93" fill="#A2142F"/>
<polygon points="131.28,228.74 129.33,225.33 133.23,225.33" fill="#A2142F"/>
<polygon points="146.36,222.04 144.41,218.63 148.31,218.63" fill="#A2142F"/>
<polygon points="161.44,223.14 159.49,219.73 163.39,219.73" fill="#A2142F"/>
<polygon points="176.52,226.54 174.57,223.13 178.47,223.13" fill="#A2142F"/>
<polyline points="40.80,213.00 55.88,256.80 70.96,240.30 86.04,233.70 101.12,229.50 116.20,229.50 131.28,227.80 146.36,225.80 161.44,224.50 176.52,226.80" fill="none" stroke="#0072BD" stroke-width="1.2" stroke-dasharray="1.1,1.2" stroke-linejoin="round"/>
<polygon points="40.80,215.24 38.85,211.83 42.75,211.83" fill="#0072BD"/>
<polygon points="55.88,259.04 53.93,255.63 57.83,255.63" fill="#0072BD"/>
<polygon points="70.96,242.54 69.01,239.13 72.91,239.13" fill="#0072BD"/>
<polygon points="86.04,235.94 84.09,232.53 87.99,232.53" fill="#0072BD"/>
<polygon points="101.12,231.74 99.17,228.33 103.07,228.33" fill="#0072BD"/>
<polygon points="116.20,231.74 114.25,228.33 118.15,228.33" fill="#0072BD"/>
<polygon points="131.28,230.04 129.33,226.63 133.23,226.63" fill="#0072BD"/>
<polygon points="146.36,228.04 144.41,224.63 148.31,224.63" fill="#0072BD"/>
<polygon points="161.44,226.74 159.49,223.33 163.39,223.33" fill="#0072BD"/>
<polygon points="176.52,229.04 174.57,225.63 178.47,225.63" fill="#0072BD"/>
<rect x="29.50" y="179.80" width="150.80" height="135.50" fill="none" stroke="#000" stroke-width="1.1"/>
<line x1="63.42" y1="315.30" x2="63.42" y2="313.80" stroke="#000" stroke-width="0.8"/>
<text x="63.42" y="325.30" text-anchor="middle" font-size="7.5" fill="#262626">5</text>
<line x1="101.12" y1="315.30" x2="101.12" y2="313.80" stroke="#000" stroke-width="0.8"/>
<text x="101.12" y="325.30" text-anchor="middle" font-size="7.5" fill="#262626">10</text>
<line x1="138.82" y1="315.30" x2="138.82" y2="313.80" stroke="#000" stroke-width="0.8"/>
<text x="138.82" y="325.30" text-anchor="middle" font-size="7.5" fill="#262626">15</text>
<line x1="176.52" y1="315.30" x2="176.52" y2="313.80" stroke="#000" stroke-width="0.8"/>
<text x="176.52" y="325.30" text-anchor="middle" font-size="7.5" fill="#262626">20</text>
<line x1="29.50" y1="315.30" x2="31.00" y2="315.30" stroke="#000" stroke-width="0.8"/>
<text x="27.20" y="317.70" text-anchor="end" font-size="7.5" fill="#262626">48</text>
<line x1="29.50" y1="289.30" x2="31.00" y2="289.30" stroke="#000" stroke-width="0.8"/>
<text x="27.20" y="291.70" text-anchor="end" font-size="7.5" fill="#262626">48.5</text>
<line x1="29.50" y1="263.30" x2="31.00" y2="263.30" stroke="#000" stroke-width="0.8"/>
<text x="27.20" y="265.70" text-anchor="end" font-size="7.5" fill="#262626">49</text>
<line x1="29.50" y1="237.30" x2="31.00" y2="237.30" stroke="#000" stroke-width="0.8"/>
<text x="27.20" y="239.70" text-anchor="end" font-size="7.5" fill="#262626">49.5</text>
<line x1="29.50" y1="211.30" x2="31.00" y2="211.30" stroke="#000" stroke-width="0.8"/>
<text x="27.20" y="213.70" text-anchor="end" font-size="7.5" fill="#262626">50</text>
<line x1="29.50" y1="185.30" x2="31.00" y2="185.30" stroke="#000" stroke-width="0.8"/>
<text x="27.20" y="187.70" text-anchor="end" font-size="7.5" fill="#262626">50.5</text>
<text x="104.90" y="335.50" text-anchor="middle" font-size="8.2" fill="#262626">Epochs</text>
<text transform="translate(8.80,247.55) rotate(-90)" text-anchor="middle" font-size="8.2" fill="#262626">PSNR</text>
<polyline points="223.55,251.00 238.25,228.00 252.95,219.40 267.65,208.00 282.35,203.80 297.05,198.60 311.75,199.50 326.45,196.00 341.15,200.10 355.85,199.00" fill="none" stroke="#0072BD" stroke-width="1.2" stroke-linejoin="round"/>
<circle cx="223.55" cy="251.00" r="1.5" fill="#0072BD"/>
<circle cx="238.25" cy="228.00" r="1.5" fill="#0072BD"/>
<circle cx="252.95" cy="219.40" r="1.5" fill="#0072BD"/>
<circle cx="267.65" cy="208.00" r="1.5" fill="#0072BD"/>
<circle cx="282.35" cy="203.80" r="1.5" fill="#0072BD"/>
<circle cx="297.05" cy="198.60" r="1.5" fill="#0072BD"/>
<circle cx="311.75" cy="199.50" r="1.5" fill="#0072BD"/>
<circle cx="326.45" cy="196.00" r="1.5" fill="#0072BD"/>
<circle cx="341.15" cy="200.10" r="1.5" fill="#0072BD"/>
<circle cx="355.85" cy="199.00" r="1.5" fill="#0072BD"/>
<polyline points="223.55,253.00 238.25,231.20 252.95,215.10 267.65,209.00 282.35,203.50 297.05,201.50 311.75,197.30 326.45,199.50 341.15,199.00 355.85,201.50" fill="none" stroke="#D95319" stroke-width="1.2" stroke-linejoin="round"/>
<circle cx="223.55" cy="253.00" r="1.5" fill="#D95319"/>
<circle cx="238.25" cy="231.20" r="1.5" fill="#D95319"/>
<circle cx="252.95" cy="215.10" r="1.5" fill="#D95319"/>
<circle cx="267.65" cy="209.00" r="1.5" fill="#D95319"/>
<circle cx="282.35" cy="203.50" r="1.5" fill="#D95319"/>
<circle cx="297.05" cy="201.50" r="1.5" fill="#D95319"/>
<circle cx="311.75" cy="197.30" r="1.5" fill="#D95319"/>
<circle cx="326.45" cy="199.50" r="1.5" fill="#D95319"/>
<circle cx="341.15" cy="199.00" r="1.5" fill="#D95319"/>
<circle cx="355.85" cy="201.50" r="1.5" fill="#D95319"/>
<polyline points="223.55,266.00 238.25,252.50 252.95,247.50 267.65,240.50 282.35,229.40 297.05,223.80 311.75,219.60 326.45,215.20 341.15,212.30 355.85,208.80" fill="none" stroke="#EDB120" stroke-width="1.2" stroke-dasharray="4,3.5" stroke-linejoin="round"/>
<polygon points="223.55,263.76 221.60,267.17 225.50,267.17" fill="#EDB120"/>
<polygon points="238.25,250.26 236.30,253.67 240.20,253.67" fill="#EDB120"/>
<polygon points="252.95,245.26 251.00,248.67 254.90,248.67" fill="#EDB120"/>
<polygon points="267.65,238.26 265.70,241.67 269.60,241.67" fill="#EDB120"/>
<polygon points="282.35,227.16 280.40,230.57 284.30,230.57" fill="#EDB120"/>
<polygon points="297.05,221.56 295.10,224.97 299.00,224.97" fill="#EDB120"/>
<polygon points="311.75,217.36 309.80,220.77 313.70,220.77" fill="#EDB120"/>
<polygon points="326.45,212.96 324.50,216.37 328.40,216.37" fill="#EDB120"/>
<polygon points="341.15,210.06 339.20,213.47 343.10,213.47" fill="#EDB120"/>
<polygon points="355.85,206.56 353.90,209.97 357.80,209.97" fill="#EDB120"/>
<polyline points="223.55,270.00 238.25,251.00 252.95,243.00 267.65,232.00 282.35,222.40 297.05,218.30 311.75,216.60 326.45,214.70 341.15,213.10 355.85,212.00" fill="none" stroke="#7E2F8E" stroke-width="1.2" stroke-dasharray="4,3.5" stroke-linejoin="round"/>
<polygon points="223.55,267.76 221.60,271.17 225.50,271.17" fill="#7E2F8E"/>
<polygon points="238.25,248.76 236.30,252.17 240.20,252.17" fill="#7E2F8E"/>
<polygon points="252.95,240.76 251.00,244.17 254.90,244.17" fill="#7E2F8E"/>
<polygon points="267.65,229.76 265.70,233.17 269.60,233.17" fill="#7E2F8E"/>
<polygon points="282.35,220.16 280.40,223.57 284.30,223.57" fill="#7E2F8E"/>
<polygon points="297.05,216.06 295.10,219.47 299.00,219.47" fill="#7E2F8E"/>
<polygon points="311.75,214.36 309.80,217.77 313.70,217.77" fill="#7E2F8E"/>
<polygon points="326.45,212.46 324.50,215.87 328.40,215.87" fill="#7E2F8E"/>
<polygon points="341.15,210.86 339.20,214.27 343.10,214.27" fill="#7E2F8E"/>
<polygon points="355.85,209.76 353.90,213.17 357.80,213.17" fill="#7E2F8E"/>
<polyline points="223.55,265.80 238.25,254.20 252.95,245.50 267.65,244.00 282.35,236.20 297.05,228.00 311.75,221.20 326.45,212.70 341.15,209.40 355.85,205.00" fill="none" stroke="#77AC30" stroke-width="1.2" stroke-dasharray="4,3.5" stroke-linejoin="round"/>
<polygon points="223.55,263.56 221.60,266.97 225.50,266.97" fill="#77AC30"/>
<polygon points="238.25,251.96 236.30,255.37 240.20,255.37" fill="#77AC30"/>
<polygon points="252.95,243.26 251.00,246.67 254.90,246.67" fill="#77AC30"/>
<polygon points="267.65,241.76 265.70,245.17 269.60,245.17" fill="#77AC30"/>
<polygon points="282.35,233.96 280.40,237.37 284.30,237.37" fill="#77AC30"/>
<polygon points="297.05,225.76 295.10,229.17 299.00,229.17" fill="#77AC30"/>
<polygon points="311.75,218.96 309.80,222.37 313.70,222.37" fill="#77AC30"/>
<polygon points="326.45,210.46 324.50,213.87 328.40,213.87" fill="#77AC30"/>
<polygon points="341.15,207.16 339.20,210.57 343.10,210.57" fill="#77AC30"/>
<polygon points="355.85,202.76 353.90,206.17 357.80,206.17" fill="#77AC30"/>
<polyline points="223.55,287.70 238.25,279.50 252.95,272.00 267.65,259.20 282.35,267.90 297.05,257.40 311.75,256.00 326.45,255.30 341.15,253.60 355.85,252.70" fill="none" stroke="#4DBEEE" stroke-width="1.2" stroke-dasharray="1.1,1.2" stroke-linejoin="round"/>
<polygon points="223.55,289.94 221.60,286.53 225.50,286.53" fill="#4DBEEE"/>
<polygon points="238.25,281.74 236.30,278.33 240.20,278.33" fill="#4DBEEE"/>
<polygon points="252.95,274.24 251.00,270.83 254.90,270.83" fill="#4DBEEE"/>
<polygon points="267.65,261.44 265.70,258.03 269.60,258.03" fill="#4DBEEE"/>
<polygon points="282.35,270.14 280.40,266.73 284.30,266.73" fill="#4DBEEE"/>
<polygon points="297.05,259.64 295.10,256.23 299.00,256.23" fill="#4DBEEE"/>
<polygon points="311.75,258.24 309.80,254.83 313.70,254.83" fill="#4DBEEE"/>
<polygon points="326.45,257.54 324.50,254.13 328.40,254.13" fill="#4DBEEE"/>
<polygon points="341.15,255.84 339.20,252.43 343.10,252.43" fill="#4DBEEE"/>
<polygon points="355.85,254.94 353.90,251.53 357.80,251.53" fill="#4DBEEE"/>
<polyline points="223.55,292.30 238.25,278.60 252.95,261.20 267.65,261.00 282.35,257.40 297.05,265.30 311.75,256.30 326.45,251.90 341.15,251.30 355.85,251.30" fill="none" stroke="#A2142F" stroke-width="1.2" stroke-dasharray="1.1,1.2" stroke-linejoin="round"/>
<polygon points="223.55,294.54 221.60,291.13 225.50,291.13" fill="#A2142F"/>
<polygon points="238.25,280.84 236.30,277.43 240.20,277.43" fill="#A2142F"/>
<polygon points="252.95,263.44 251.00,260.03 254.90,260.03" fill="#A2142F"/>
<polygon points="267.65,263.24 265.70,259.83 269.60,259.83" fill="#A2142F"/>
<polygon points="282.35,259.64 280.40,256.23 284.30,256.23" fill="#A2142F"/>
<polygon points="297.05,267.54 295.10,264.13 299.00,264.13" fill="#A2142F"/>
<polygon points="311.75,258.54 309.80,255.13 313.70,255.13" fill="#A2142F"/>
<polygon points="326.45,254.14 324.50,250.73 328.40,250.73" fill="#A2142F"/>
<polygon points="341.15,253.54 339.20,250.13 343.10,250.13" fill="#A2142F"/>
<polygon points="355.85,253.54 353.90,250.13 357.80,250.13" fill="#A2142F"/>
<polyline points="223.55,245.60 238.25,283.00 252.95,271.50 267.65,257.30 282.35,256.90 297.05,253.40 311.75,256.20 326.45,251.30 341.15,254.20 355.85,250.10" fill="none" stroke="#0072BD" stroke-width="1.2" stroke-dasharray="1.1,1.2" stroke-linejoin="round"/>
<polygon points="223.55,247.84 221.60,244.43 225.50,244.43" fill="#0072BD"/>
<polygon points="238.25,285.24 236.30,281.83 240.20,281.83" fill="#0072BD"/>
<polygon points="252.95,273.74 251.00,270.33 254.90,270.33" fill="#0072BD"/>
<polygon points="267.65,259.54 265.70,256.13 269.60,256.13" fill="#0072BD"/>
<polygon points="282.35,259.14 280.40,255.73 284.30,255.73" fill="#0072BD"/>
<polygon points="297.05,255.64 295.10,252.23 299.00,252.23" fill="#0072BD"/>
<polygon points="311.75,258.44 309.80,255.03 313.70,255.03" fill="#0072BD"/>
<polygon points="326.45,253.54 324.50,250.13 328.40,250.13" fill="#0072BD"/>
<polygon points="341.15,256.44 339.20,253.03 343.10,253.03" fill="#0072BD"/>
<polygon points="355.85,252.34 353.90,248.93 357.80,248.93" fill="#0072BD"/>
<rect x="212.70" y="182.50" width="146.90" height="134.70" fill="none" stroke="#000" stroke-width="1.1"/>
<line x1="245.60" y1="317.20" x2="245.60" y2="315.70" stroke="#000" stroke-width="0.8"/>
<text x="245.60" y="327.20" text-anchor="middle" font-size="7.5" fill="#262626">5</text>
<line x1="282.35" y1="317.20" x2="282.35" y2="315.70" stroke="#000" stroke-width="0.8"/>
<text x="282.35" y="327.20" text-anchor="middle" font-size="7.5" fill="#262626">10</text>
<line x1="319.10" y1="317.20" x2="319.10" y2="315.70" stroke="#000" stroke-width="0.8"/>
<text x="319.10" y="327.20" text-anchor="middle" font-size="7.5" fill="#262626">15</text>
<line x1="355.85" y1="317.20" x2="355.85" y2="315.70" stroke="#000" stroke-width="0.8"/>
<text x="355.85" y="327.20" text-anchor="middle" font-size="7.5" fill="#262626">20</text>
<line x1="212.70" y1="317.20" x2="214.20" y2="317.20" stroke="#000" stroke-width="0.8"/>
<text x="210.40" y="319.60" text-anchor="end" font-size="7.5" fill="#262626">0.98</text>
<line x1="212.70" y1="294.75" x2="214.20" y2="294.75" stroke="#000" stroke-width="0.8"/>
<text x="210.40" y="297.15" text-anchor="end" font-size="7.5" fill="#262626">0.981</text>
<line x1="212.70" y1="272.30" x2="214.20" y2="272.30" stroke="#000" stroke-width="0.8"/>
<text x="210.40" y="274.70" text-anchor="end" font-size="7.5" fill="#262626">0.982</text>
<line x1="212.70" y1="249.85" x2="214.20" y2="249.85" stroke="#000" stroke-width="0.8"/>
<text x="210.40" y="252.25" text-anchor="end" font-size="7.5" fill="#262626">0.983</text>
<line x1="212.70" y1="227.40" x2="214.20" y2="227.40" stroke="#000" stroke-width="0.8"/>
<text x="210.40" y="229.80" text-anchor="end" font-size="7.5" fill="#262626">0.984</text>
<line x1="212.70" y1="204.95" x2="214.20" y2="204.95" stroke="#000" stroke-width="0.8"/>
<text x="210.40" y="207.35" text-anchor="end" font-size="7.5" fill="#262626">0.985</text>
<line x1="212.70" y1="182.50" x2="214.20" y2="182.50" stroke="#000" stroke-width="0.8"/>
<text x="210.40" y="184.90" text-anchor="end" font-size="7.5" fill="#262626">0.986</text>
<text x="286.15" y="337.40" text-anchor="middle" font-size="8.2" fill="#262626">Epochs</text>
<text transform="translate(190.30,249.85) rotate(-90)" text-anchor="middle" font-size="8.2" fill="#262626">CC</text>
<polyline points="406.50,257.10 420.95,229.20 435.40,218.40 449.85,205.90 464.30,197.80 478.75,191.70 493.20,192.20 507.65,187.50 522.10,191.00 536.55,190.60" fill="none" stroke="#0072BD" stroke-width="1.2" stroke-linejoin="round"/>
<circle cx="406.50" cy="257.10" r="1.5" fill="#0072BD"/>
<circle cx="420.95" cy="229.20" r="1.5" fill="#0072BD"/>
<circle cx="435.40" cy="218.40" r="1.5" fill="#0072BD"/>
<circle cx="449.85" cy="205.90" r="1.5" fill="#0072BD"/>
<circle cx="464.30" cy="197.80" r="1.5" fill="#0072BD"/>
<circle cx="478.75" cy="191.70" r="1.5" fill="#0072BD"/>
<circle cx="493.20" cy="192.20" r="1.5" fill="#0072BD"/>
<circle cx="507.65" cy="187.50" r="1.5" fill="#0072BD"/>
<circle cx="522.10" cy="191.00" r="1.5" fill="#0072BD"/>
<circle cx="536.55" cy="190.60" r="1.5" fill="#0072BD"/>
<polyline points="406.50,260.80 420.95,232.90 435.40,213.40 449.85,205.30 464.30,197.00 478.75,195.40 493.20,187.40 507.65,190.20 522.10,190.80 536.55,193.70" fill="none" stroke="#D95319" stroke-width="1.2" stroke-linejoin="round"/>
<circle cx="406.50" cy="260.80" r="1.5" fill="#D95319"/>
<circle cx="420.95" cy="232.90" r="1.5" fill="#D95319"/>
<circle cx="435.40" cy="213.40" r="1.5" fill="#D95319"/>
<circle cx="449.85" cy="205.30" r="1.5" fill="#D95319"/>
<circle cx="464.30" cy="197.00" r="1.5" fill="#D95319"/>
<circle cx="478.75" cy="195.40" r="1.5" fill="#D95319"/>
<circle cx="493.20" cy="187.40" r="1.5" fill="#D95319"/>
<circle cx="507.65" cy="190.20" r="1.5" fill="#D95319"/>
<circle cx="522.10" cy="190.80" r="1.5" fill="#D95319"/>
<circle cx="536.55" cy="193.70" r="1.5" fill="#D95319"/>
<polyline points="406.50,283.60 420.95,262.70 435.40,252.40 449.85,244.50 464.30,230.30 478.75,222.20 493.20,217.30 507.65,212.00 522.10,208.00 536.55,203.80" fill="none" stroke="#EDB120" stroke-width="1.2" stroke-dasharray="4,3.5" stroke-linejoin="round"/>
<polygon points="406.50,281.36 404.55,284.77 408.45,284.77" fill="#EDB120"/>
<polygon points="420.95,260.46 419.00,263.87 422.90,263.87" fill="#EDB120"/>
<polygon points="435.40,250.16 433.45,253.57 437.35,253.57" fill="#EDB120"/>
<polygon points="449.85,242.26 447.90,245.67 451.80,245.67" fill="#EDB120"/>
<polygon points="464.30,228.06 462.35,231.47 466.25,231.47" fill="#EDB120"/>
<polygon points="478.75,219.96 476.80,223.37 480.70,223.37" fill="#EDB120"/>
<polygon points="493.20,215.06 491.25,218.47 495.15,218.47" fill="#EDB120"/>
<polygon points="507.65,209.76 505.70,213.17 509.60,213.17" fill="#EDB120"/>
<polygon points="522.10,205.76 520.15,209.17 524.05,209.17" fill="#EDB120"/>
<polygon points="536.55,201.56 534.60,204.97 538.50,204.97" fill="#EDB120"/>
<polyline points="406.50,283.00 420.95,259.20 435.40,248.40 449.85,232.90 464.30,222.20 478.75,216.20 493.20,214.50 507.65,210.00 522.10,209.40 536.55,208.00" fill="none" stroke="#7E2F8E" stroke-width="1.2" stroke-dasharray="4,3.5" stroke-linejoin="round"/>
<polygon points="406.50,280.76 404.55,284.17 408.45,284.17" fill="#7E2F8E"/>
<polygon points="420.95,256.96 419.00,260.37 422.90,260.37" fill="#7E2F8E"/>
<polygon points="435.40,246.16 433.45,249.57 437.35,249.57" fill="#7E2F8E"/>
<polygon points="449.85,230.66 447.90,234.07 451.80,234.07" fill="#7E2F8E"/>
<polygon points="464.30,219.96 462.35,223.37 466.25,223.37" fill="#7E2F8E"/>
<polygon points="478.75,213.96 476.80,217.37 480.70,217.37" fill="#7E2F8E"/>
<polygon points="493.20,212.26 491.25,215.67 495.15,215.67" fill="#7E2F8E"/>
<polygon points="507.65,207.76 505.70,211.17 509.60,211.17" fill="#7E2F8E"/>
<polygon points="522.10,207.16 520.15,210.57 524.05,210.57" fill="#7E2F8E"/>
<polygon points="536.55,205.76 534.60,209.17 538.50,209.17" fill="#7E2F8E"/>
<polyline points="406.50,279.90 420.95,265.50 435.40,252.40 449.85,250.10 464.30,242.00 478.75,231.50 493.20,223.40 507.65,212.30 522.10,208.00 536.55,201.80" fill="none" stroke="#77AC30" stroke-width="1.2" stroke-dasharray="4,3.5" stroke-linejoin="round"/>
<polygon points="406.50,277.66 404.55,281.07 408.45,281.07" fill="#77AC30"/>
<polygon points="420.95,263.26 419.00,266.67 422.90,266.67" fill="#77AC30"/>
<polygon points="435.40,250.16 433.45,253.57 437.35,253.57" fill="#77AC30"/>
<polygon points="449.85,247.86 447.90,251.27 451.80,251.27" fill="#77AC30"/>
<polygon points="464.30,239.76 462.35,243.17 466.25,243.17" fill="#77AC30"/>
<polygon points="478.75,229.26 476.80,232.67 480.70,232.67" fill="#77AC30"/>
<polygon points="493.20,221.16 491.25,224.57 495.15,224.57" fill="#77AC30"/>
<polygon points="507.65,210.06 505.70,213.47 509.60,213.47" fill="#77AC30"/>
<polygon points="522.10,205.76 520.15,209.17 524.05,209.17" fill="#77AC30"/>
<polygon points="536.55,199.56 534.60,202.97 538.50,202.97" fill="#77AC30"/>
<polyline points="406.50,295.80 420.95,286.20 435.40,278.00 449.85,263.10 464.30,272.70 478.75,258.70 493.20,255.50 507.65,254.20 522.10,251.90 536.55,251.90" fill="none" stroke="#4DBEEE" stroke-width="1.2" stroke-dasharray="1.1,1.2" stroke-linejoin="round"/>
<polygon points="406.50,298.04 404.55,294.63 408.45,294.63" fill="#4DBEEE"/>
<polygon points="420.95,288.44 419.00,285.03 422.90,285.03" fill="#4DBEEE"/>
<polygon points="435.40,280.24 433.45,276.83 437.35,276.83" fill="#4DBEEE"/>
<polygon points="449.85,265.34 447.90,261.93 451.80,261.93" fill="#4DBEEE"/>
<polygon points="464.30,274.94 462.35,271.53 466.25,271.53" fill="#4DBEEE"/>
<polygon points="478.75,260.94 476.80,257.53 480.70,257.53" fill="#4DBEEE"/>
<polygon points="493.20,257.74 491.25,254.33 495.15,254.33" fill="#4DBEEE"/>
<polygon points="507.65,256.44 505.70,253.03 509.60,253.03" fill="#4DBEEE"/>
<polygon points="522.10,254.14 520.15,250.73 524.05,250.73" fill="#4DBEEE"/>
<polygon points="536.55,254.14 534.60,250.73 538.50,250.73" fill="#4DBEEE"/>
<polyline points="406.50,305.90 420.95,292.70 435.40,270.10 449.85,271.40 464.30,265.00 478.75,276.20 493.20,262.70 507.65,257.40 522.10,257.40 536.55,258.00" fill="none" stroke="#A2142F" stroke-width="1.2" stroke-dasharray="1.1,1.2" stroke-linejoin="round"/>
<polygon points="406.50,308.14 404.55,304.73 408.45,304.73" fill="#A2142F"/>
<polygon points="420.95,294.94 419.00,291.53 422.90,291.53" fill="#A2142F"/>
<polygon points="435.40,272.34 433.45,268.93 437.35,268.93" fill="#A2142F"/>
<polygon points="449.85,273.64 447.90,270.23 451.80,270.23" fill="#A2142F"/>
<polygon points="464.30,267.24 462.35,263.83 466.25,263.83" fill="#A2142F"/>
<polygon points="478.75,278.44 476.80,275.03 480.70,275.03" fill="#A2142F"/>
<polygon points="493.20,264.94 491.25,261.53 495.15,261.53" fill="#A2142F"/>
<polygon points="507.65,259.64 505.70,256.23 509.60,256.23" fill="#A2142F"/>
<polygon points="522.10,259.64 520.15,256.23 524.05,256.23" fill="#A2142F"/>
<polygon points="536.55,260.24 534.60,256.83 538.50,256.83" fill="#A2142F"/>
<polyline points="406.50,249.90 420.95,295.00 435.40,283.40 449.85,263.60 464.30,263.00 478.75,258.40 493.20,262.40 507.65,254.50 522.10,259.50 536.55,253.40" fill="none" stroke="#0072BD" stroke-width="1.2" stroke-dasharray="1.1,1.2" stroke-linejoin="round"/>
<polygon points="406.50,252.14 404.55,248.73 408.45,248.73" fill="#0072BD"/>
<polygon points="420.95,297.24 419.00,293.83 422.90,293.83" fill="#0072BD"/>
<polygon points="435.40,285.64 433.45,282.23 437.35,282.23" fill="#0072BD"/>
<polygon points="449.85,265.84 447.90,262.43 451.80,262.43" fill="#0072BD"/>
<polygon points="464.30,265.24 462.35,261.83 466.25,261.83" fill="#0072BD"/>
<polygon points="478.75,260.64 476.80,257.23 480.70,257.23" fill="#0072BD"/>
<polygon points="493.20,264.64 491.25,261.23 495.15,261.23" fill="#0072BD"/>
<polygon points="507.65,256.74 505.70,253.33 509.60,253.33" fill="#0072BD"/>
<polygon points="522.10,261.74 520.15,258.33 524.05,258.33" fill="#0072BD"/>
<polygon points="536.55,255.64 534.60,252.23 538.50,252.23" fill="#0072BD"/>
<rect x="395.80" y="179.80" width="144.40" height="136.40" fill="none" stroke="#000" stroke-width="1.1"/>
<line x1="428.18" y1="316.20" x2="428.18" y2="314.70" stroke="#000" stroke-width="0.8"/>
<text x="428.18" y="326.20" text-anchor="middle" font-size="7.5" fill="#262626">5</text>
<line x1="464.30" y1="316.20" x2="464.30" y2="314.70" stroke="#000" stroke-width="0.8"/>
<text x="464.30" y="326.20" text-anchor="middle" font-size="7.5" fill="#262626">10</text>
<line x1="500.43" y1="316.20" x2="500.43" y2="314.70" stroke="#000" stroke-width="0.8"/>
<text x="500.43" y="326.20" text-anchor="middle" font-size="7.5" fill="#262626">15</text>
<line x1="536.55" y1="316.20" x2="536.55" y2="314.70" stroke="#000" stroke-width="0.8"/>
<text x="536.55" y="326.20" text-anchor="middle" font-size="7.5" fill="#262626">20</text>
<line x1="395.80" y1="316.20" x2="397.30" y2="316.20" stroke="#000" stroke-width="0.8"/>
<text x="393.50" y="318.60" text-anchor="end" font-size="7.5" fill="#262626">0.988</text>
<line x1="395.80" y1="291.00" x2="397.30" y2="291.00" stroke="#000" stroke-width="0.8"/>
<text x="393.50" y="293.40" text-anchor="end" font-size="7.5" fill="#262626">0.9885</text>
<line x1="395.80" y1="265.80" x2="397.30" y2="265.80" stroke="#000" stroke-width="0.8"/>
<text x="393.50" y="268.20" text-anchor="end" font-size="7.5" fill="#262626">0.989</text>
<line x1="395.80" y1="240.60" x2="397.30" y2="240.60" stroke="#000" stroke-width="0.8"/>
<text x="393.50" y="243.00" text-anchor="end" font-size="7.5" fill="#262626">0.9895</text>
<line x1="395.80" y1="215.40" x2="397.30" y2="215.40" stroke="#000" stroke-width="0.8"/>
<text x="393.50" y="217.80" text-anchor="end" font-size="7.5" fill="#262626">0.99</text>
<line x1="395.80" y1="190.20" x2="397.30" y2="190.20" stroke="#000" stroke-width="0.8"/>
<text x="393.50" y="192.60" text-anchor="end" font-size="7.5" fill="#262626">0.9905</text>
<text x="468.00" y="336.40" text-anchor="middle" font-size="8.2" fill="#262626">Epochs</text>
<text transform="translate(369.50,248.00) rotate(-90)" text-anchor="middle" font-size="8.2" fill="#262626">SSIM</text>
<line x1="99.2" y1="351.3" x2="110.6" y2="351.3" stroke="#0072BD" stroke-width="1.2"/>
<circle cx="104.90" cy="351.30" r="1.5" fill="#0072BD"/>
<text x="119.2" y="353.90000000000003" font-size="7.6" fill="#2a2a2a" style="stroke:none" text-rendering="geometricPrecision">235</text>
<line x1="147.2" y1="351.3" x2="158.7" y2="351.3" stroke="#D95319" stroke-width="1.2"/>
<circle cx="152.95" cy="351.30" r="1.5" fill="#D95319"/>
<text x="166.8" y="353.90000000000003" font-size="7.6" fill="#2a2a2a" style="stroke:none" text-rendering="geometricPrecision">R235</text>
<line x1="201.1" y1="351.3" x2="211.8" y2="351.3" stroke="#EDB120" stroke-width="1.2" stroke-dasharray="4,3.5"/>
<polygon points="206.45,349.06 204.50,352.47 208.40,352.47" fill="#EDB120"/>
<text x="220.4" y="353.90000000000003" font-size="7.6" fill="#2a2a2a" style="stroke:none" text-rendering="geometricPrecision">S40</text>
<line x1="249.0" y1="351.3" x2="259.9" y2="351.3" stroke="#7E2F8E" stroke-width="1.2" stroke-dasharray="4,3.5"/>
<polygon points="254.45,349.06 252.50,352.47 256.40,352.47" fill="#7E2F8E"/>
<text x="268.0" y="353.90000000000003" font-size="7.6" fill="#2a2a2a" style="stroke:none" text-rendering="geometricPrecision">SR40</text>
<line x1="302.6" y1="351.3" x2="314.2" y2="351.3" stroke="#77AC30" stroke-width="1.2" stroke-dasharray="4,3.5"/>
<polygon points="308.40,349.06 306.45,352.47 310.35,352.47" fill="#77AC30"/>
<text x="322.5" y="353.90000000000003" font-size="7.6" fill="#2a2a2a" style="stroke:none" text-rendering="geometricPrecision">P40</text>
<line x1="344.3" y1="351.3" x2="354.5" y2="351.3" stroke="#4DBEEE" stroke-width="1.2" stroke-dasharray="1.1,1.2"/>
<polygon points="349.40,353.54 347.45,350.13 351.35,350.13" fill="#4DBEEE"/>
<text x="364.0" y="353.90000000000003" font-size="7.6" fill="#2a2a2a" style="stroke:none" text-rendering="geometricPrecision">S8</text>
<line x1="389.0" y1="351.3" x2="400.0" y2="351.3" stroke="#A2142F" stroke-width="1.2" stroke-dasharray="1.1,1.2"/>
<polygon points="394.50,353.54 392.55,350.13 396.45,350.13" fill="#A2142F"/>
<text x="409.0" y="353.90000000000003" font-size="7.6" fill="#2a2a2a" style="stroke:none" text-rendering="geometricPrecision">P8</text>
<line x1="433.8" y1="351.3" x2="445.4" y2="351.3" stroke="#0072BD" stroke-width="1.2" stroke-dasharray="1.1,1.2"/>
<polygon points="439.60,353.54 437.65,350.13 441.55,350.13" fill="#0072BD"/>
<text x="454.0" y="353.90000000000003" font-size="7.6" fill="#2a2a2a" style="stroke:none" text-rendering="geometricPrecision">S40P8</text>
</svg>
</body></html>
